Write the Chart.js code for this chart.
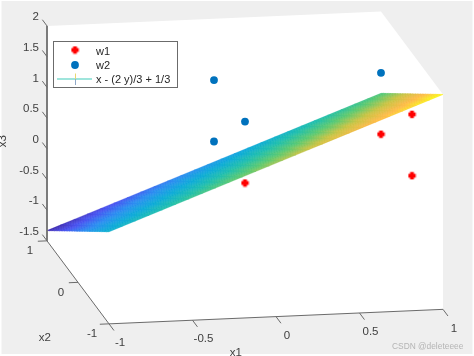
<!DOCTYPE html>
<html>
<head>
<meta charset="utf-8">
<style>html,body{margin:0;padding:0;background:#fff}canvas{display:block}</style>
<script src="https://cdn.jsdelivr.net/npm/chart.js@4"></script>
</head>
<body>
<canvas id="c" width="474" height="356"></canvas>
<script>
// ---- data (x1, x2, x3) ----
const w1X1 = [0, 1, 1, 1];
const w1X2 = [0, 0, 0, 1];
const w1X3 = [0, 0, 1, 0];
const w2X1 = [0, 0, 0, 1];
const w2X2 = [0, 1, 1, 1];
const w2X3 = [1, 0, 1, 1];
const meshX1 = [-1,-0.92,-0.84,-0.76,-0.68,-0.6,-0.52,-0.44,-0.36,-0.28,-0.2,-0.12,-0.04,0.04,0.12,0.2,0.28,0.36,0.44,0.52,0.6,0.68,0.76,0.84,0.92,1];
const meshX2 = meshX1;
const surfaceLabel = 'x - (2 y)/3 + 1/3';
const surfaceX3 = (a, b) => a - 2 * b / 3 + 1 / 3;
const x1Ticks = [-1, -0.5, 0, 0.5, 1];
const x2Ticks = [-1, 0, 1];
const x3Ticks = [-1.5, -1, -0.5, 0, 0.5, 1, 1.5, 2];
const x1TickLabels = ['-1', '-0.5', '0', '0.5', '1'];
const x2TickLabels = ['-1', '0', '1'];
const x3TickLabels = ['-1.5', '-1', '-0.5', '0', '0.5', '1', '1.5', '2'];
const parula = [[62,38,168],[71,80,240],[40,140,240],[10,170,215],[30,190,170],[90,200,110],[200,195,65],[254,185,70],[249,251,21]];

// ---- oblique view of the 3-D box onto the two chart scales ----
const view = {ox:245, oy:183, ux:167, uy:-7.25, vx:-31, vy:-41.5, wy:-61.4};
const P = (a, b, c) => ({x: view.ox + view.ux*a + view.vx*b, y: view.oy + view.uy*a + view.vy*b + view.wy*c});
const GAP = {x:null, y:null};
const Z0 = -1.5, Z1 = 2;
const textCol = '#404040', axisCol = '#6b6b6b';

function colour(t){
  t = Math.max(0, Math.min(1, t)) * (parula.length - 1);
  const i = Math.min(parula.length - 2, Math.floor(t)), f = t - i;
  const c = parula[i].map((v, k) => Math.round(v + (parula[i+1][k] - v) * f));
  return `rgb(${c[0]},${c[1]},${c[2]})`;
}

// fat plus used as the w1 marker
const plusMark = document.createElement('canvas');
plusMark.width = plusMark.height = 9;
(function(){
  const m = plusMark.getContext('2d');
  m.fillStyle = '#ff0000';
  m.fillRect(2.6, 0.8, 3.8, 7.4);
  m.fillRect(0.8, 2.6, 7.4, 3.8);
})();

const datasets = [];
// white walls / floor
datasets.push({type:'line', data:[P(-1,1,Z1),P(1,1,Z1),P(1,-1,Z1),P(1,-1,Z0),P(-1,-1,Z0),P(-1,1,Z0)],
  backgroundColor:'#ffffff', borderColor:'#ffffff', borderWidth:0, fill:'shape', pointRadius:0, order:10, clip:false});
// surface
const zMin = surfaceX3(-1, 1), zMax = surfaceX3(1, -1);
for (let i = 0; i < meshX1.length - 1; i++) {
  for (let j = 0; j < meshX2.length - 1; j++) {
    const a0 = meshX1[i], a1 = meshX1[i+1], b0 = meshX2[j], b1 = meshX2[j+1];
    const col = colour((surfaceX3((a0+a1)/2, (b0+b1)/2) - zMin) / (zMax - zMin));
    datasets.push({type:'line',
      data:[P(a0,b0,surfaceX3(a0,b0)),P(a1,b0,surfaceX3(a1,b0)),P(a1,b1,surfaceX3(a1,b1)),P(a0,b1,surfaceX3(a0,b1)),P(a0,b0,surfaceX3(a0,b0))],
      backgroundColor:col, borderColor:col, borderWidth:0.5, fill:'shape', pointRadius:0, order:8, clip:false, tension:0});
  }
}
// axes
const axisData = [P(-1,1,Z1),P(-1,1,Z0),P(-1,-1,Z0),P(1,-1,Z0)];
const tickData = [];
x1Ticks.forEach(t => tickData.push(P(t,-1,Z0), P(t,-1.16,Z0), GAP));
x2Ticks.forEach(t => tickData.push(P(-1,t,Z0), P(-1.055,t,Z0), GAP));
x3Ticks.forEach(t => tickData.push(P(-1,1,t), P(-1,1.15,t), GAP));
datasets.push({type:'line', data:axisData, borderColor:axisCol, borderWidth:1, fill:false, pointRadius:0, order:6, clip:false});
datasets.push({type:'line', data:tickData, borderColor:axisCol, borderWidth:1, fill:false, pointRadius:0, order:6, clip:false, spanGaps:false});
// markers
const w1Style = {pointStyle:plusMark, pointRadius:4.5, pointBorderWidth:0, pointBorderColor:'#ff0000', pointBackgroundColor:'#ff0000'};
const w2Style = {pointStyle:'circle', pointRadius:3.9, pointBorderWidth:0, pointBorderColor:'#0072bd', pointBackgroundColor:'#0072bd'};
datasets.push(Object.assign({label:'w1', type:'scatter', data:w1X1.map((v,i)=>P(v,w1X2[i],w1X3[i])), showLine:false, order:2, clip:false}, w1Style));
datasets.push(Object.assign({label:'w2', type:'scatter', data:w2X1.map((v,i)=>P(v,w2X2[i],w2X3[i])), showLine:false, order:2, clip:false}, w2Style));
// legend samples
const leg = {x:53, y:41, w:124, h:46, sx:75, tx:96, rows:[50,65,79]};

const page = {
  id:'page',
  beforeDraw(ch){
    const g = ch.ctx;
    g.save(); g.fillStyle = '#efefef'; g.fillRect(1.5, 1, 471, 353); g.restore();
  },
  afterDraw(ch){
    const g = ch.ctx, X = ch.scales.x, Y = ch.scales.y;
    const txt = (s, p, dx, dy, align) => {
      g.textAlign = align || 'center'; g.textBaseline = 'middle';
      g.fillText(s, X.getPixelForValue(p.x) + dx, Y.getPixelForValue(p.y) + dy);
    };
    g.save();
    g.font = '11.5px "Liberation Sans", Arial, sans-serif';
    g.fillStyle = textCol;
    x1Ticks.forEach((t,i) => txt(x1TickLabels[i], P(t,-1,Z0), 11, 19));
    x2Ticks.forEach((t,i) => txt(x2TickLabels[i], P(-1,t,Z0), -17, 10));
    x3Ticks.forEach((t,i) => txt(x3TickLabels[i], P(-1,1,t), -8, -9, 'right'));
    // axis names
    g.fillText('x1', 242, 353);
    g.fillText('x2', 51, 338);
    g.save(); g.translate(3, 135); g.rotate(-Math.PI/2); g.fillText('x3', 0, 0); g.restore();
    // legend box
    g.fillStyle = '#ffffff'; g.fillRect(leg.x+.5, leg.y+.5, leg.w, leg.h);
    g.strokeStyle = '#6b6b6b'; g.lineWidth = 1; g.strokeRect(leg.x+.5, leg.y+.5, leg.w, leg.h);
    Chart.helpers.drawPoint(g, {pointStyle:plusMark, rotation:0, radius:4.5, borderWidth:0}, leg.sx, leg.rows[0]);
    g.fillStyle = '#0072bd';
    g.beginPath(); g.arc(leg.sx, leg.rows[1], 3.9, 0, Math.PI*2); g.fill();
    g.strokeStyle = '#7fdcd0'; g.lineWidth = 1.4;
    g.beginPath(); g.moveTo(57, leg.rows[2]); g.lineTo(92, leg.rows[2]); g.stroke();
    g.lineWidth = 1;
    g.strokeStyle = '#e8d870'; g.beginPath(); g.moveTo(leg.sx+.5, 73.5); g.lineTo(leg.sx+.5, leg.rows[2]); g.stroke();
    g.strokeStyle = '#8fa8c8'; g.beginPath(); g.moveTo(leg.sx+.5, leg.rows[2]); g.lineTo(leg.sx+.5, 85); g.stroke();
    g.font = '11px "Liberation Sans", Arial, sans-serif';
    g.fillStyle = '#262626'; g.textAlign = 'left'; g.textBaseline = 'middle';
    g.fillText('w1', leg.tx, 52);
    g.fillText('w2', leg.tx, 66);
    g.fillText(surfaceLabel, leg.tx, 80);
    // watermark
    g.font = '8.4px "Liberation Sans", Arial, sans-serif';
    g.fillStyle = '#b4b4b4';
    g.fillText('CSDN @deleteeee', 392, 347);
    g.restore();
  }
};

new Chart(document.getElementById('c'), {
  type:'scatter',
  data:{datasets},
  plugins:[page],
  options:{
    responsive:false, animation:false, events:[],
    layout:{padding:0, autoPadding:false},
    scales:{
      x:{type:'linear', min:0, max:474, display:false},
      y:{type:'linear', min:0, max:356, reverse:true, display:false}
    },
    plugins:{legend:{display:false}, tooltip:{enabled:false}, title:{display:false}}
  }
});
</script>
</body>
</html>
